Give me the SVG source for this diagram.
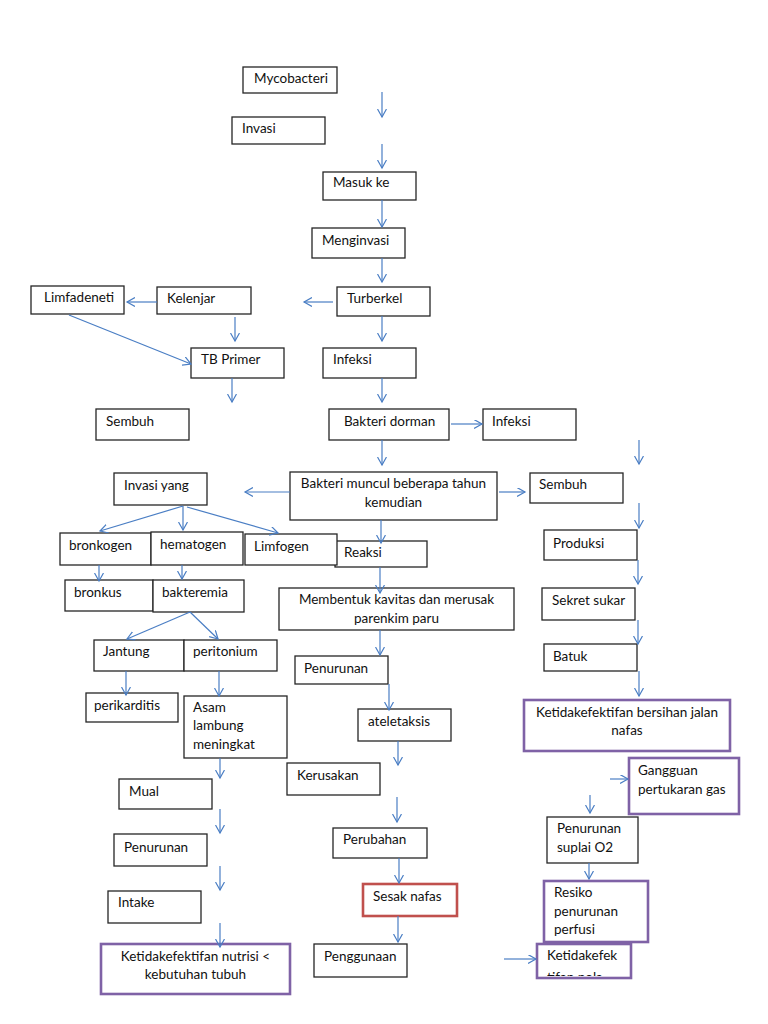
<svg xmlns="http://www.w3.org/2000/svg" width="768" height="1024" viewBox="0 0 768 1024">
<style>
.b{fill:#fff;stroke:#262626;stroke-width:1.3}
.p{fill:#fff;stroke:#7f62a6;stroke-width:2.6}
.r{fill:#fff;stroke:#c0504d;stroke-width:2.6}
text{font-family:Lato,"Liberation Sans",sans-serif;font-size:13.5px;fill:#111}
.c{text-anchor:middle}
#conn line{stroke:#4a7ec4;stroke-width:1.2;marker-end:url(#ah)}
</style>
<defs>
<marker id="ah" markerUnits="userSpaceOnUse" markerWidth="10" markerHeight="10" refX="8" refY="4.5" orient="auto">
<path d="M0,0 L8,4.5 L0,9" fill="none" stroke="#4a7ec4" stroke-width="1.2"/>
</marker>
<clipPath id="clipK"><rect x="537" y="944" width="94" height="32"/></clipPath>
</defs>
<rect width="768" height="1024" fill="#fff"/>
<g id="n1"><rect class="b" x="243" y="67" width="94" height="26"/><text x="254" y="83">Mycobacteri</text></g>
<g id="n2"><rect class="b" x="232" y="117" width="93" height="27"/><text x="242" y="133">Invasi</text></g>
<g id="n3"><rect class="b" x="323" y="172" width="93" height="28"/><text x="333" y="187">Masuk ke</text></g>
<g id="n4"><rect class="b" x="312" y="228" width="93" height="30"/><text x="322" y="245">Menginvasi</text></g>
<g id="n5"><rect class="b" x="337" y="287" width="93" height="29"/><text x="347" y="303">Turberkel</text></g>
<g id="n6"><rect class="b" x="157" y="287" width="94" height="27"/><text x="167" y="303">Kelenjar</text></g>
<g id="n7"><rect class="b" x="31" y="286" width="93" height="28"/><text x="44" y="302">Limfadeneti</text></g>
<g id="n8"><rect class="b" x="191" y="348" width="93" height="30"/><text x="201" y="364">TB Primer</text></g>
<g id="n9"><rect class="b" x="323" y="348" width="93" height="30"/><text x="333" y="364">Infeksi</text></g>
<g id="n10"><rect class="b" x="96" y="409" width="93" height="31"/><text x="106" y="426">Sembuh</text></g>
<g id="n11"><rect class="b" x="329" y="409" width="120" height="31"/><text x="344" y="426">Bakteri dorman</text></g>
<g id="n12"><rect class="b" x="483" y="409" width="93" height="31"/><text x="492" y="426">Infeksi</text></g>
<g id="n13"><rect class="b" x="290" y="472" width="207" height="48"/><text class="c" x="393.5" y="488">Bakteri muncul beberapa tahun</text><text class="c" x="393.5" y="507">kemudian</text></g>
<g id="n14"><rect class="b" x="530" y="473" width="93" height="30"/><text x="539" y="489">Sembuh</text></g>
<g id="n15"><rect class="b" x="114" y="473" width="93" height="32"/><text x="124" y="490">Invasi yang</text></g>
<g id="n16"><rect class="b" x="60" y="533" width="91" height="32"/><text x="69" y="550">bronkogen</text></g>
<g id="n17"><rect class="b" x="151" y="532" width="92" height="33"/><text x="160" y="549">hematogen</text></g>
<g id="n19"><rect class="b" x="335" y="541" width="92" height="26"/><text x="344" y="557">Reaksi</text></g>
<g id="n18"><rect class="b" x="245" y="534" width="92" height="31"/><text x="254" y="551">Limfogen</text></g>
<g id="n20"><rect class="b" x="65" y="580" width="88" height="31"/><text x="74" y="597">bronkus</text></g>
<g id="n21"><rect class="b" x="153" y="580" width="91" height="32"/><text x="162" y="597">bakteremia</text></g>
<g id="n22"><rect class="b" x="279" y="588" width="235" height="42"/><text class="c" x="396.5" y="604">Membentuk kavitas dan merusak</text><text class="c" x="396.5" y="623">parenkim paru</text></g>
<g id="n23"><rect class="b" x="94" y="640" width="90" height="31"/><text x="103" y="656">Jantung</text></g>
<g id="n24"><rect class="b" x="184" y="640" width="93" height="31"/><text x="193" y="656">peritonium</text></g>
<g id="n25"><rect class="b" x="86" y="693" width="92" height="29"/><text x="94" y="710">perikarditis</text></g>
<g id="n26"><rect class="b" x="184" y="696" width="103" height="62"/><text x="193" y="712">Asam</text><text x="193" y="730">lambung</text><text x="193" y="749">meningkat</text></g>
<g id="n27"><rect class="b" x="295" y="656" width="93" height="28"/><text x="304" y="673">Penurunan</text></g>
<g id="n28"><rect class="b" x="358" y="709" width="93" height="32"/><text x="368" y="726">ateletaksis</text></g>
<g id="n29"><rect class="b" x="287" y="763" width="93" height="32"/><text x="297" y="780">Kerusakan</text></g>
<g id="n30"><rect class="b" x="544" y="530" width="93" height="30"/><text x="553" y="548">Produksi</text></g>
<g id="n31"><rect class="b" x="542" y="588" width="93" height="32"/><text x="552" y="605">Sekret sukar</text></g>
<g id="n32"><rect class="b" x="544" y="644" width="93" height="27"/><text x="553" y="661">Batuk</text></g>
<g id="n33"><rect class="p" x="524" y="700" width="206" height="51"/><text class="c" x="627" y="717">Ketidakefektifan bersihan jalan</text><text class="c" x="627" y="735">nafas</text></g>
<g id="n34"><rect class="b" x="119" y="779" width="93" height="30"/><text x="129" y="796">Mual</text></g>
<g id="n35"><rect class="b" x="114" y="834" width="93" height="32"/><text x="124" y="852">Penurunan</text></g>
<g id="n36"><rect class="b" x="108" y="891" width="93" height="32"/><text x="118" y="907">Intake</text></g>
<g id="n37"><rect class="p" x="101" y="944" width="189" height="50"/><text class="c" x="195.5" y="961">Ketidakefektifan nutrisi &lt;</text><text class="c" x="195.5" y="979">kebutuhan tubuh</text></g>
<g id="n38"><rect class="b" x="333" y="828" width="94" height="30"/><text x="343" y="844">Perubahan</text></g>
<g id="n39"><rect class="r" x="363" y="884" width="94" height="32"/><text x="373" y="901">Sesak nafas</text></g>
<g id="n40"><rect class="b" x="314" y="944" width="93" height="33"/><text x="324" y="961">Penggunaan</text></g>
<g id="n41"><rect class="p" x="629" y="758" width="110" height="56"/><text x="638" y="775">Gangguan</text><text x="638" y="794">pertukaran gas</text></g>
<g id="n42"><rect class="b" x="547" y="817" width="91" height="46"/><text x="557" y="833">Penurunan</text><text x="557" y="852">suplai O2</text></g>
<g id="n43"><rect class="p" x="544" y="881" width="104" height="61"/><text x="554" y="897">Resiko</text><text x="554" y="916">penurunan</text><text x="554" y="934">perfusi</text></g>
<g id="n44"><rect class="p" x="537" y="944" width="94" height="34"/><text x="547" y="960">Ketidakefek</text><text x="547" y="982" clip-path="url(#clipK)">tifan pola</text></g>
<g id="conn">
<line x1="382" y1="92" x2="382" y2="117"/>
<line x1="382" y1="144" x2="382" y2="168"/>
<line x1="382" y1="200" x2="382" y2="227"/>
<line x1="382" y1="258" x2="382" y2="282"/>
<line x1="333" y1="302" x2="304" y2="302"/>
<line x1="157" y1="302" x2="127" y2="302"/>
<line x1="235" y1="317" x2="235" y2="341"/>
<line x1="69" y1="315" x2="191" y2="364"/>
<line x1="232" y1="378" x2="232" y2="402"/>
<line x1="382" y1="316" x2="382" y2="341"/>
<line x1="382" y1="378" x2="382" y2="402"/>
<line x1="451" y1="424" x2="482" y2="424"/>
<line x1="382" y1="440" x2="382" y2="465"/>
<line x1="290" y1="492" x2="245" y2="492"/>
<line x1="499" y1="492" x2="525" y2="492"/>
<line x1="381" y1="520" x2="381" y2="543"/>
<line x1="183" y1="506" x2="100" y2="531"/>
<line x1="183" y1="506" x2="183" y2="530"/>
<line x1="187" y1="507" x2="278" y2="533"/>
<line x1="99" y1="565" x2="99" y2="581"/>
<line x1="182" y1="565" x2="182" y2="579"/>
<line x1="190" y1="612" x2="127" y2="639"/>
<line x1="190" y1="612" x2="218" y2="639"/>
<line x1="126" y1="671" x2="126" y2="695"/>
<line x1="219" y1="671" x2="219" y2="696"/>
<line x1="380" y1="567" x2="380" y2="593"/>
<line x1="380" y1="630" x2="380" y2="655"/>
<line x1="389" y1="684" x2="389" y2="710"/>
<line x1="398" y1="741" x2="398" y2="765"/>
<line x1="397" y1="797" x2="397" y2="822"/>
<line x1="399" y1="858" x2="399" y2="883"/>
<line x1="398" y1="916" x2="398" y2="942"/>
<line x1="220" y1="758" x2="220" y2="778"/>
<line x1="220" y1="809" x2="220" y2="833"/>
<line x1="220" y1="866" x2="220" y2="890"/>
<line x1="220" y1="923" x2="220" y2="947"/>
<line x1="639" y1="440" x2="639" y2="464"/>
<line x1="639" y1="503" x2="639" y2="528"/>
<line x1="638" y1="560" x2="638" y2="584"/>
<line x1="638" y1="620" x2="638" y2="644"/>
<line x1="639" y1="671" x2="639" y2="696"/>
<line x1="610" y1="779" x2="628" y2="779"/>
<line x1="590" y1="795" x2="590" y2="813"/>
<line x1="589" y1="863" x2="589" y2="879"/>
<line x1="504" y1="959" x2="536" y2="959"/>
</g>
</svg>
